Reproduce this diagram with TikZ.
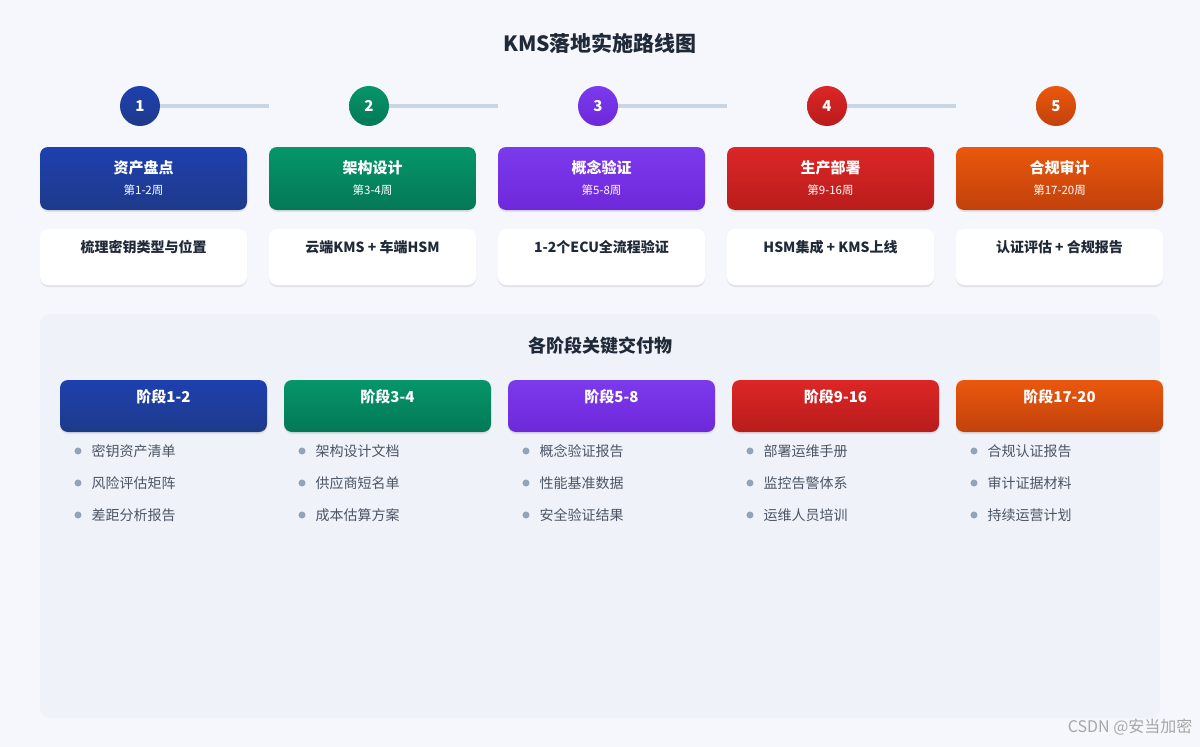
\documentclass[tikz,border=0pt]{standalone}
\usepackage{fontspec}
\setmainfont{Noto Sans CJK SC}
\usetikzlibrary{shadows}
\definecolor{bgc}{HTML}{F5F7FC}
\definecolor{panel}{HTML}{EFF2F8}
\definecolor{ink}{HTML}{1F2937}
\definecolor{gray1}{HTML}{4B5563}
\definecolor{dotc}{HTML}{94A3B8}
\definecolor{linec}{HTML}{CBD5E1}
\definecolor{aT}{HTML}{1E40AF}\definecolor{aB}{HTML}{1E3A8A}
\definecolor{bT}{HTML}{059669}\definecolor{bB}{HTML}{047857}
\definecolor{cT}{HTML}{7C3AED}\definecolor{cB}{HTML}{6D28D9}
\definecolor{dT}{HTML}{DC2626}\definecolor{dB}{HTML}{B91C1C}
\definecolor{eT}{HTML}{EA580C}\definecolor{eB}{HTML}{C2410C}
\tikzset{
  sh/.style={drop shadow={shadow xshift=0pt,shadow yshift=-2pt,opacity=0.08,fill=black}},
  stagebox/.style={rounded corners=8pt,minimum width=207pt,minimum height=63pt,inner sep=0pt,sh},
  infobox/.style={rounded corners=8pt,minimum width=207pt,minimum height=56pt,fill=white,inner sep=0pt,sh},
  phasebox/.style={rounded corners=8pt,minimum width=207pt,minimum height=52pt,inner sep=0pt,sh},
  numc/.style={circle,minimum size=40pt,inner sep=0pt,text=white,font=\bfseries\fontsize{15}{15}\selectfont},
  tl/.style={text=white,font=\bfseries\fontsize{15}{17}\selectfont},
  st/.style={text=white,font=\fontsize{11.5}{13}\selectfont},
  it/.style={text=ink,font=\bfseries\fontsize{14}{16}\selectfont},
  bl/.style={text=gray1,font=\fontsize{14}{16}\selectfont,anchor=west},
}
\begin{document}
\begin{tikzpicture}[x=1pt,y=-1pt]
\fill[bgc] (0,0) rectangle (1200,747);
\useasboundingbox (0,0) rectangle (1200,747);
\node[text=ink,font=\bfseries\fontsize{21}{23}\selectfont] (title) at (600,43) {KMS落地实施路线图};
\foreach \i/\x in {1/40,2/269,3/498,4/727}{
  \coordinate (le\i) at (\x+229,106);
  \coordinate (ls\i) at (\x+100,106);
  \draw[linec,line width=4pt] (ls\i) -- (le\i);
}
\foreach \i/\x/\c/\t/\s/\d in {1/40/a/资产盘点/第1-2周/梳理密钥类型与位置,
  2/269/b/架构设计/第3-4周/云端KMS + 车端HSM,
  3/498/c/概念验证/第5-8周/1-2个ECU全流程验证,
  4/727/d/生产部署/第9-16周/HSM集成 + KMS上线,
  5/956/e/合规审计/第17-20周/认证评估 + 合规报告}{
  \node[numc,top color=\c T,bottom color=\c B] (n\i) at (\x+100,106) {\i};
  \node[stagebox,top color=\c T,bottom color=\c B] (s\i) at (\x+103.5,178.5) {};
  \node[tl] (st\i) at (\x+103.5,168) {\t};
  \node[st] (ss\i) at (\x+103.5,190) {\s};
  \node[infobox] (b\i) at (\x+103.5,257) {};
  \node[it] (bt\i) at (\x+103.5,247) {\d};
}
\fill[panel,rounded corners=10pt] (40,314) rectangle (1160,718);
\node[text=ink,font=\bfseries\fontsize{18}{20}\selectfont] (sub) at (600,346) {各阶段关键交付物};
\foreach \i/\x/\c/\t/\p/\q/\r in {1/60/a/阶段1-2/密钥资产清单/风险评估矩阵/差距分析报告,
  2/284/b/阶段3-4/架构设计文档/供应商短名单/成本估算方案,
  3/508/c/阶段5-8/概念验证报告/性能基准数据/安全验证结果,
  4/732/d/阶段9-16/部署运维手册/监控告警体系/运维人员培训,
  5/956/e/阶段17-20/合规认证报告/审计证据材料/持续运营计划}{
  \node[phasebox,top color=\c T,bottom color=\c B] (p\i) at (\x+103.5,406) {};
  \node[tl] (pt\i) at (\x+103.5,397) {\t};
  \foreach \y/\w in {451/\p,483/\q,515/\r}{
    \fill[dotc] (\x+18,\y) circle (3.5pt);
    \node[bl] at (\x+28,\y) {\w};
  }
}
\node[text=gray!70,font=\fontsize{16}{18}\selectfont,anchor=east] (wm) at (1196,727) {CSDN @安当加密};
\end{tikzpicture}
\end{document}
